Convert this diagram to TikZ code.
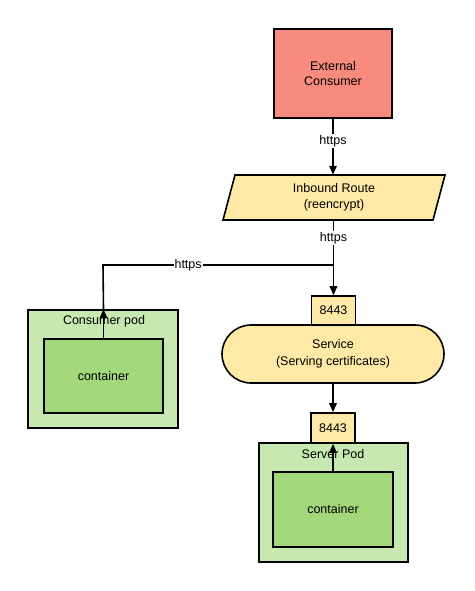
\documentclass[tikz,border=0pt]{standalone}
\usepackage{fontspec}
\setmainfont{Liberation Sans}
\usetikzlibrary{arrows.meta}
\definecolor{salmon}{RGB}{248,138,126}
\definecolor{paleyellow}{RGB}{255,233,166}
\definecolor{podgreen}{RGB}{199,232,176}
\definecolor{boxgreen}{RGB}{163,216,122}
\tikzset{
  box/.style={draw=black, line width=1.6pt, inner sep=0pt, align=center, font=\fontsize{12.5}{15}\selectfont},
  lbl/.style={font=\fontsize{12.5}{14}\selectfont, fill=white, inner sep=1pt},
  arr/.style={line width=1.6pt, -{Triangle[length=9pt,width=7.5pt]}},
  ln/.style={line width=1.6pt},
}
\begin{document}
\begin{tikzpicture}[x=1pt,y=-1pt]
\useasboundingbox (0,0) rectangle (474,591);
% External consumer
\node[box, fill=salmon, minimum width=118pt, minimum height=89pt] (ext) at (333,73.5) {External\\Consumer};
% Inbound route parallelogram
\draw[line width=1.6pt, fill=paleyellow] (235,175) -- (445,175) -- (433,220) -- (223,220) -- cycle;
\node[inner sep=0pt, minimum width=210pt, minimum height=45pt, align=center, font=\fontsize{12.5}{16.5}\selectfont] (route) at (334,197.5) {Inbound Route\\(reencrypt)};
% Service port and service
\node[box, fill=paleyellow, minimum width=44pt, minimum height=29pt] (p1) at (333.5,310.5) {8443};
\node[box, fill=paleyellow, rounded corners=29pt, minimum width=222pt, minimum height=58pt, font=\fontsize{12.5}{16.5}\selectfont] (svc) at (333,354) {Service\\(Serving certificates)};
% Consumer pod
\node[box, fill=podgreen, minimum width=150pt, minimum height=118pt] (cpod) at (103,369) {};
\node[box, fill=boxgreen, minimum width=119pt, minimum height=74pt] (cc) at (103.5,376) {container};
% Server pod
\node[box, fill=paleyellow, minimum width=44pt, minimum height=30pt] (p2) at (333,428) {8443};
\node[box, fill=podgreen, minimum width=149pt, minimum height=119pt] (spod) at (333.5,502.5) {};
\node[box, fill=boxgreen, minimum width=120pt, minimum height=75pt] (sc) at (333,509.5) {container};
% connectors
\coordinate (junc) at (333,265);
\coordinate (corner) at (103,265);
\draw[arr] (ext.south) -- node[lbl, pos=0.4] {https} (route.north -| ext.south);
\draw[arr] (route.south -| p1.north) -- node[lbl, pos=0.24] {https} (p1.north);
\draw[ln] (cpod.north -| cc.north) -- (corner) -- node[lbl, pos=0.37] {https} (junc);
\draw[arr] (cc.north) -- (cpod.north -| cc.north);
\draw[arr] (svc.south -| p2.north) -- (p2.north);
\draw[arr] (sc.north) -- (p2.south);
% pod labels
\node[font=\fontsize{12.5}{14}\selectfont, inner sep=0pt] (cpl) at (104,321) {Consumer pod};
\node[font=\fontsize{12.5}{14}\selectfont, inner sep=0pt] (spl) at (333,454) {Server Pod};
\end{tikzpicture}
\end{document}
